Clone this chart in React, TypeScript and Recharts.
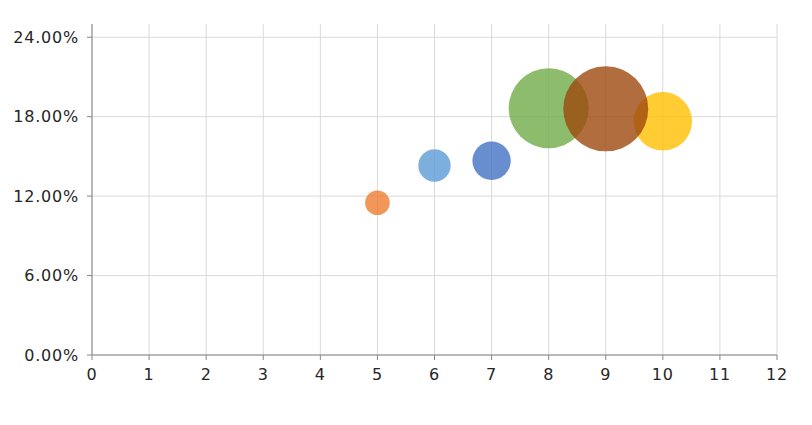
import React from "react";
import { ScatterChart, Scatter, XAxis, YAxis, ZAxis, CartesianGrid, Cell } from "recharts";

const xValues = [5, 6, 7, 8, 10, 9];
const yValues = [0.115, 0.1431, 0.1467, 0.1864, 0.1765, 0.1859];
const sizes = [8.4, 14.5, 20.4, 88.6, 47.2, 100];
const colors = ["#ED7D31", "#5B9BD5", "#4472C4", "#70AD47", "#FFC000", "#9E480E"];
const xTicks = [0, 1, 2, 3, 4, 5, 6, 7, 8, 9, 10, 11, 12];
const yTicks = [0, 0.06, 0.12, 0.18, 0.24];
const yDomain = [0, 0.25];

const data = xValues.map((x, i) => ({ x, y: yValues[i], z: sizes[i] }));

const RMAX = 42.5;
const font = { fontFamily: "DejaVu Sans", fontSize: 16, fill: "#262626", letterSpacing: 0.8 };

export default function App() {
  return (
    <div style={{ position: "absolute", left: 0, top: 0, background: "#fff" }}>
      <ScatterChart
        width={812}
        height={425}
        margin={{ top: 24, right: 35, bottom: 40, left: 0 }}
      >
        <CartesianGrid
          stroke="#d9d9d9"
          strokeWidth={1}
          horizontalCoordinatesGenerator={({ offset }: any) =>
            yTicks.map(
              (t) =>
                offset.top +
                offset.height * (1 - (t - yDomain[0]) / (yDomain[1] - yDomain[0]))
            )
          }
        />
        <XAxis
          type="number"
          dataKey="x"
          domain={[0, 12]}
          ticks={xTicks}
          interval={0}
          height={30}
          tickSize={5}
          tickMargin={9}
          stroke="#868686"
          tick={font}
          tickLine={{ stroke: "#868686" }}
          axisLine={{ stroke: "#868686" }}
        />
        <YAxis
          type="number"
          dataKey="y"
          domain={yDomain}
          ticks={yTicks}
          interval={0}
          width={92}
          tickSize={5}
          tickMargin={8}
          tickFormatter={(v: number) => (v * 100).toFixed(2) + "%"}
          stroke="#868686"
          tick={font}
          tickLine={{ stroke: "#868686" }}
          axisLine={{ stroke: "#868686" }}
        />
        <ZAxis type="number" dataKey="z" domain={[0, 100]} range={[0, Math.PI * RMAX * RMAX]} />
        <Scatter data={data} isAnimationActive={false} shape="circle">
          {data.map((d, i) => (
            <Cell key={i} fill={colors[i]} fillOpacity={0.8} stroke="none" />
          ))}
        </Scatter>
      </ScatterChart>
    </div>
  );
}
